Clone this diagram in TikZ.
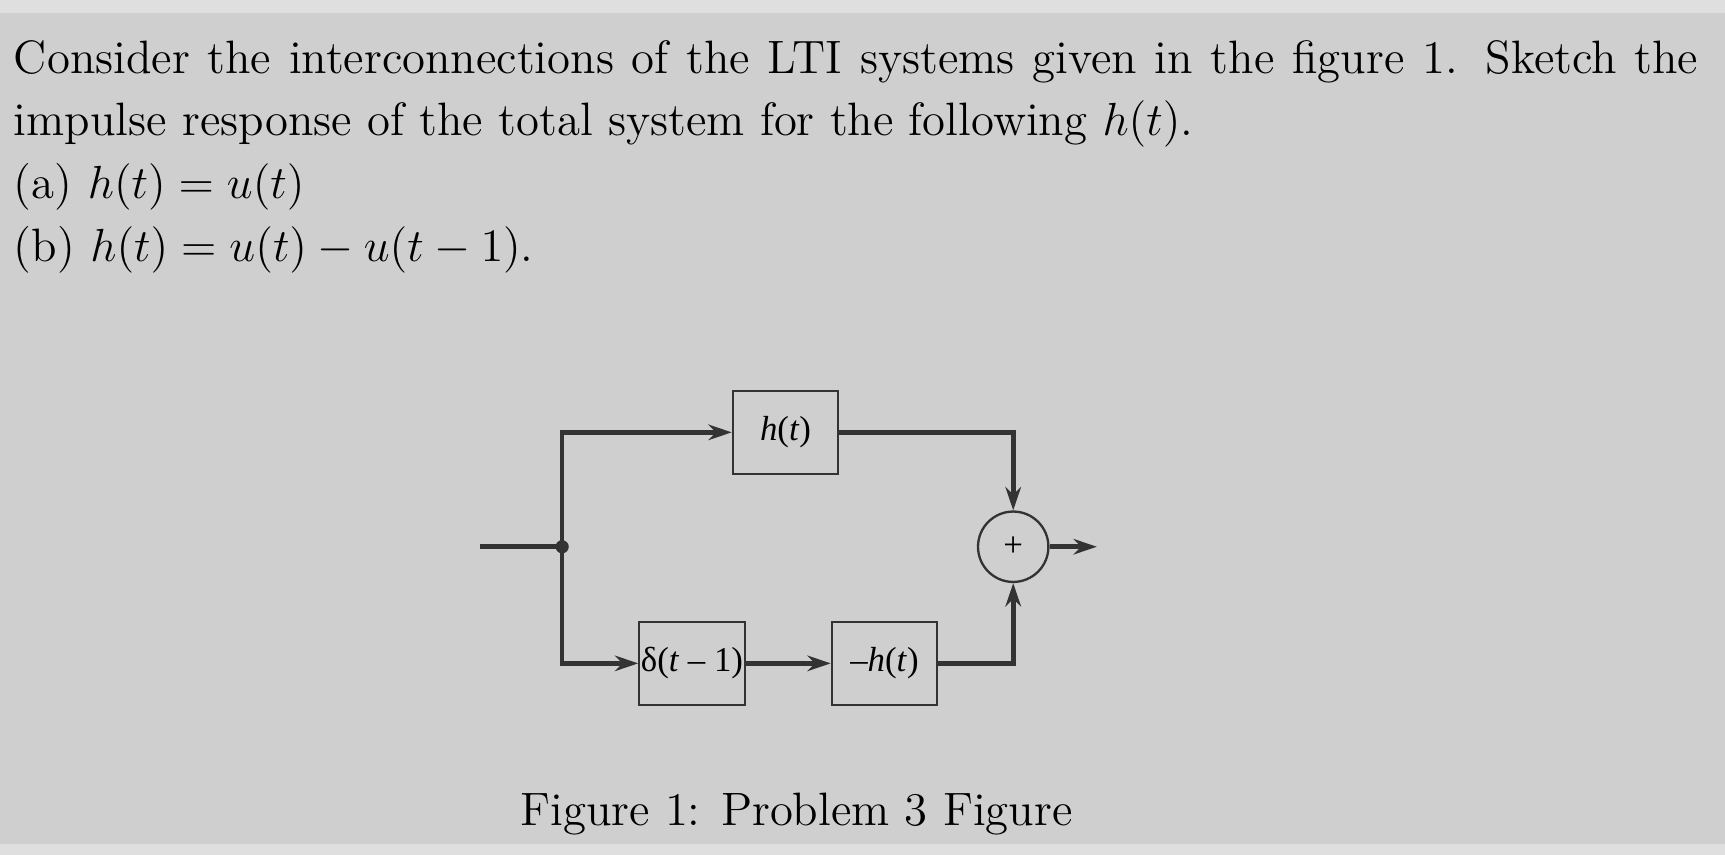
\documentclass[tikz,border=0pt]{standalone}
\usepackage{fontspec}
\newfontfamily\tms{Liberation Serif}
\usetikzlibrary{arrows.meta}
\begin{document}
\begin{tikzpicture}[x=0.01cm,y=-0.01cm,
  wire/.style={draw=black!80,line width=1.2pt},
  arr/.style={wire,-{Stealth[length=6pt,width=4pt]}},
  blk/.style={draw=black!80,line width=0.5pt,minimum width=96*0.01cm,minimum height=75*0.01cm,inner sep=0pt,font=\tms\fontsize{9}{10}\selectfont},
  txt/.style={anchor=north west,inner sep=0pt,font=\fontsize{12.1}{16.2}\selectfont}]
\useasboundingbox (0,0) rectangle (1568,777);
\fill[gray!25!white] (0,0) rectangle (1568,777);
\fill[black!19] (0,12) rectangle (1568,767);
\node[txt,text width=1531*0.01cm,align=justify] (p) at (12,36) {Consider the interconnections of the LTI systems given in the figure 1. Sketch the impulse response of the total system for the following $h(t)$.\\
(a) $h(t)=u(t)$\\
(b) $h(t)=u(t)-u(t-1)$.};
\node[blk] (h) at (714,393) {\textit{h}(\textit{t})};
\node[blk] (d) at (629,603) {δ(\textit{t} – 1)};
\node[blk] (mh) at (804,603) {–\textit{h}(\textit{t})};
\node[draw=black!80,line width=0.6pt,circle,minimum size=64*0.01cm,inner sep=0pt] (s) at (921,497) {\tms\fontsize{9}{10}\selectfont +};
\coordinate (in) at (436,497);
\coordinate (j) at (511,497);
\coordinate (out) at (997,497);
\draw[wire] (in) -- (j);
\fill[black!80] (j) circle (6);
\draw[arr] (j) |- (h.west);
\draw[arr] (j) |- (d.west);
\draw[arr] (d) -- (mh);
\draw[arr] (h.east) -| (s.north);
\draw[arr] (mh.east) -| (s.south);
\draw[arr] (s) -- (out);
\node[font=\fontsize{12.1}{16.2}\selectfont,anchor=base] (cap) at (724,750) {Figure 1: Problem 3 Figure};
\end{tikzpicture}
\end{document}
